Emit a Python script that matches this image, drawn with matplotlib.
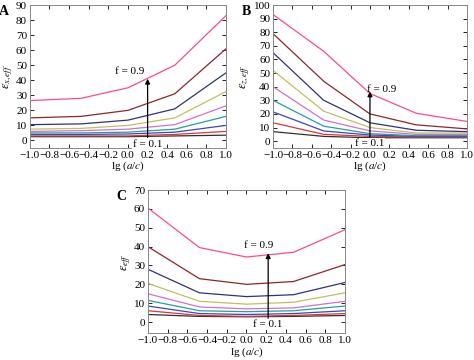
import numpy as np
import matplotlib
matplotlib.use('Agg')
import matplotlib.pyplot as plt

plt.rcParams['font.family'] = ['Liberation Serif', 'DejaVu Serif']
plt.rcParams['mathtext.fontset'] = 'stix'
plt.rcParams['font.size'] = 8

# lg(a/c) sample points
x = [-1.0, -0.477, 0.0, 0.477, 1.0]

# curves f = 0.1 ... 0.9
colors = ['#303030', '#e03535', '#3548c0', '#20a0a0', '#d070d0',
          '#c0c060', '#303080', '#8a2828', '#ff4a90']

a_vals = [
    [2.5, 2.5, 2.5, 3.0, 3.5],
    [3.0, 3.0, 3.0, 4.0, 6.0],
    [4.0, 4.0, 4.3, 5.5, 10.0],
    [5.0, 5.0, 5.5, 7.5, 16.0],
    [6.0, 6.5, 7.5, 10.5, 23.0],
    [7.5, 8.0, 10.0, 15.0, 32.5],
    [10.5, 11.0, 13.5, 21.0, 45.0],
    [15.0, 16.0, 20.0, 31.0, 61.0],
    [26.5, 28.0, 35.0, 50.0, 83.0],
]
b_vals = [
    [7.0, 3.5, 2.5, 2.5, 2.5],
    [13.5, 5.0, 3.5, 3.0, 3.0],
    [21.5, 7.5, 4.5, 3.5, 3.5],
    [30.0, 11.0, 5.5, 4.0, 4.0],
    [40.0, 15.5, 7.5, 5.0, 5.0],
    [52.0, 22.0, 10.0, 6.0, 6.0],
    [65.0, 30.0, 13.5, 8.0, 7.0],
    [79.0, 44.0, 20.0, 12.0, 9.0],
    [93.0, 66.0, 35.0, 20.5, 14.5],
]
c_vals = [
    [4.0, 3.0, 2.8, 3.0, 3.5],
    [6.0, 3.5, 3.0, 3.5, 4.5],
    [8.5, 4.5, 4.0, 4.5, 6.0],
    [11.5, 6.0, 5.5, 6.0, 8.5],
    [15.0, 8.0, 7.0, 7.5, 11.0],
    [20.5, 11.0, 9.5, 10.5, 15.5],
    [28.0, 15.5, 13.5, 14.5, 21.0],
    [40.0, 23.0, 20.0, 21.5, 30.5],
    [60.5, 39.5, 34.5, 37.0, 49.0],
]

fig = plt.figure(figsize=(4.74, 3.6), dpi=100)
axA = fig.add_axes([0.063, 0.589, 0.414, 0.397])
axB = fig.add_axes([0.576, 0.589, 0.409, 0.397])
axC = fig.add_axes([0.312, 0.074, 0.416, 0.398])


def fmt(v, p):
    v = round(v, 1) + 0.0
    return f'{v:.1f}'.replace('-', '\u2212')


def draw(ax, vals, ylim, yticks, ylabel, letter, arr_x, arr_y0, arr_y1,
         t9, t1, t9_ha='center'):
    for v, c in zip(vals, colors):
        ax.plot(x, v, color=c, lw=0.9)
    ax.set_xlim(-1, 1)
    ax.set_ylim(*ylim)
    ax.set_xticks(np.round(np.arange(-1, 1.01, 0.2), 1))
    ax.set_yticks(yticks)
    ax.xaxis.set_major_formatter(matplotlib.ticker.FuncFormatter(fmt))
    ax.tick_params(direction='in', top=True, right=True, length=3,
                   width=0.6, labelsize=8, pad=2)
    for s in ax.spines.values():
        s.set_color('#888888')
        s.set_linewidth(0.7)
    ax.set_xlabel(r'lg ($a$/$c$)', fontsize=8, labelpad=0)
    ax.set_ylabel(ylabel, fontsize=9, labelpad=1)
    ax.annotate('', xy=(arr_x, arr_y1), xytext=(arr_x, arr_y0),
                arrowprops=dict(arrowstyle='-|>', color='black', lw=0.9,
                                mutation_scale=7, shrinkA=0, shrinkB=0))
    ax.text(t9[0], t9[1], 'f = 0.9', ha=t9_ha, va='bottom', fontsize=8)
    ax.text(t1[0], t1[1], 'f = 0.1', ha='center', va='center', fontsize=8,
            bbox=dict(fc='white', ec='none', pad=0.3))
    ax.text(-0.16, 1.0, letter, transform=ax.transAxes, fontsize=10,
            fontweight='bold', ha='left', va='top')


draw(axA, a_vals, (-5, 90), range(0, 91, 10), r'$\varepsilon_{x,eff}$', 'A',
     0.2, 2, 41, (0.02, 43), (0.2, -2.5))
draw(axB, b_vals, (-5, 100), range(0, 101, 10), r'$\varepsilon_{z,eff}$', 'B',
     0.0, 3, 36.5, (-0.03, 34.5), (0.0, -1.5), t9_ha='left')
draw(axC, c_vals, (-6, 70), range(0, 71, 10), r'$\varepsilon_{eff}$', 'C',
     0.22, 2, 36.5, (0.12, 38), (0.22, -1.5))

fig.savefig('out.png', dpi=100)
